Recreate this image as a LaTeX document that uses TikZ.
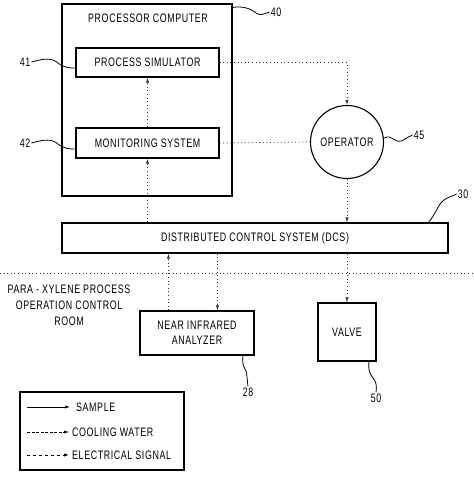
\documentclass[tikz,border=0pt]{standalone}
\usepackage{fontspec}
\setmainfont{Liberation Sans}[FakeStretch=0.72,LetterSpace=5]
\usetikzlibrary{arrows.meta,calc}
\begin{document}
\begin{tikzpicture}[x=1pt,y=-1pt,
  font=\fontsize{12.3}{14}\selectfont,
  box/.style={draw,line width=1.1pt,inner sep=0pt},
  sig/.style={line width=0.7pt,dash pattern=on 1pt off 2.6pt,black!80},
  tip/.style={-{Latex[length=5pt,width=3.2pt]}},
  lead/.style={line width=0.8pt},
  ref/.style={inner sep=1pt}]
\useasboundingbox (0,0) rectangle (474,477);
% processor computer
\node[box,minimum width=170pt,minimum height=192pt] (pc) at (147,100) {};
\node (pct) at (148,18) {PROCESSOR COMPUTER};
\node[box,minimum width=143pt,minimum height=29pt] (sim) at (147.5,62.5) {PROCESS SIMULATOR};
\node[box,minimum width=143pt,minimum height=30pt] (mon) at (147.5,143) {MONITORING SYSTEM};
% operator
\node[draw,circle,line width=1.1pt,minimum size=73pt,inner sep=0pt] (op) at (347,142) {OPERATOR};
% DCS
\node[box,minimum width=386pt,minimum height=30pt] (dcs) at (255,238) {DISTRIBUTED CONTROL SYSTEM (DCS)};
% boundary
\coordinate (bl) at (0,273);
\coordinate (br) at (474,273);
\draw[sig] (bl) -- (br);
\node[align=center,inner sep=0pt] (room) at (69,305) {PARA - XYLENE PROCESS\\[2pt]OPERATION CONTROL\\[2pt]ROOM};
% field devices
\node[box,minimum width=114pt,minimum height=44pt,align=center] (nir) at (197,333) {NEAR INFRARED\\[1pt]ANALYZER};
\node[box,minimum width=58pt,minimum height=58pt] (valve) at (347,332) {VALVE};
% connectors
\draw[sig,tip] (mon.north) -- (sim.south);
\draw[sig,tip] (dcs.north -| mon.south) -- (mon.south);
\draw[sig,tip] (sim.east) -| (op.north);
\draw[sig] (mon.east) -- (op.west);
\draw[sig,tip] (op.south) -- (op.south |- dcs.north);
\coordinate (n1) at ($(nir.north west)+(29,0)$);
\coordinate (n2) at ($(nir.north west)+(78,0)$);
\draw[sig,tip] (n1) -- (n1 |- dcs.south);
\draw[sig,tip] (n2 |- dcs.south) -- (n2);
\draw[sig,tip] (valve.north |- dcs.south) -- (valve.north);
% reference numerals
\node[ref] (r40) at (276,12) {40};
\draw[lead] (pc.north east) ++(0,4) .. controls (242,6) and (250,8) .. (256,13) .. controls (260,16) and (264,14) .. (r40.west);
\node[ref] (r41) at (25,62) {41};
\draw[lead] (r41.east) .. controls (46,58) and (52,58) .. (58,63) .. controls (64,68) and (70,68) .. (sim.west |- 0,68);
\node[ref] (r42) at (25,143) {42};
\draw[lead] (r42.east) .. controls (46,139) and (52,139) .. (58,144) .. controls (64,149) and (70,149) .. (mon.west |- 0,149);
\node[ref] (r45) at (419,135) {45};
\draw[lead] (op.east) ++(0,-4) .. controls (392,134) and (394,143) .. (401,141) .. controls (405,140) and (407,137) .. (r45.west);
\node[ref] (r30) at (463,194) {30};
\coordinate (d30) at (428,223);
\draw[lead] (d30) .. controls (436,214) and (438,204) .. (444,200) .. controls (448,197) and (451,197) .. (r30.west);
\node[ref] (r28) at (248,392) {28};
\coordinate (d28) at (243,355);
\draw[lead] (d28) .. controls (242,362) and (243,366) .. (246,371) .. controls (247,374) and (247,378) .. (r28.north);
\node[ref] (r50) at (376,398) {50};
\coordinate (d50) at (369,361);
\draw[lead] (d50) .. controls (368,368) and (369,373) .. (373,378) .. controls (376,382) and (377,385) .. (r50.north);
% legend
\node[box,minimum width=164pt,minimum height=78pt] (leg) at (102,431) {};
\coordinate (a1) at (27,407);
\coordinate (b1) at (70,407);
\coordinate (a2) at (27,432);
\coordinate (b2) at (69,432);
\coordinate (a3) at (27,455);
\coordinate (b3) at (69,455);
\draw[line width=0.7pt,tip] (a1) -- (b1);
\draw[line width=0.7pt,dash pattern=on 3pt off 1.5pt,tip] (a2) -- (b2);
\draw[line width=0.7pt,dash pattern=on 3pt off 3pt,tip] (a3) -- (b3);
\node[anchor=west,inner sep=0pt] (l1) at (76,407) {SAMPLE};
\node[anchor=west,inner sep=0pt] (l2) at (72,432) {COOLING WATER};
\node[anchor=west,inner sep=0pt] (l3) at (72,455) {ELECTRICAL SIGNAL};
\end{tikzpicture}
\end{document}
